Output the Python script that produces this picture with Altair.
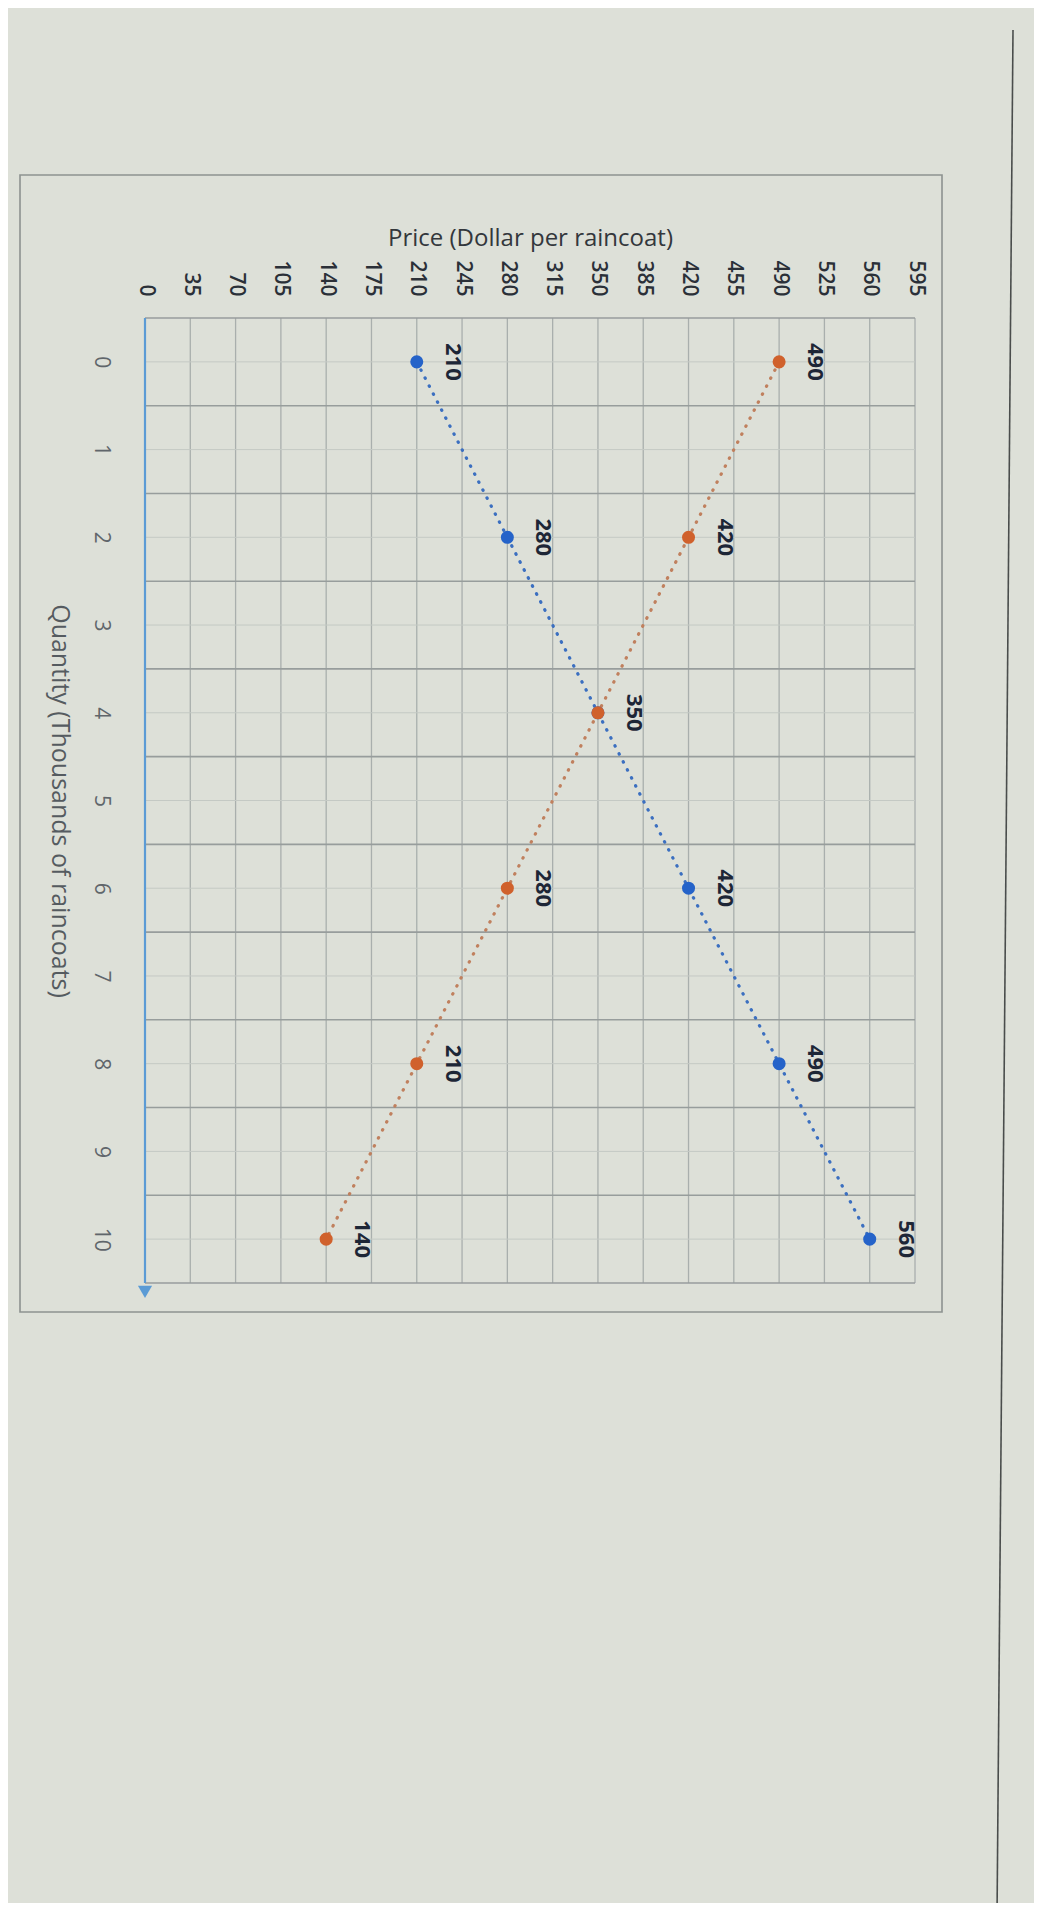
import altair as alt
import pandas as pd

# ---- data ----
quantity = [0, 2, 4, 6, 8, 10]                    # thousands of raincoats
supply_price = [210, 280, 350, 420, 490, 560]     # blue series
demand_price = [490, 420, 350, 280, 210, 140]     # orange series
price_ticks = list(range(0, 596, 35))
quantity_ticks = list(range(0, 11))
category_edges = [q - 0.5 for q in range(0, 12)]

PRICE_TITLE = "Price (Dollar per raincoat)"
QTY_TITLE = "Quantity (Thousands of raincoats)"

# ---- style ----
W, H = 770, 965
BG = "#dde0d8"
FONT = "Open Sans"
BLUE_PT, BLUE_LN = "#2563c9", "#3b6fc0"
ORANGE_PT, ORANGE_LN = "#d0612c", "#c0805e"
GRID = "#a9afad"
GRID_MAJOR = "#979d9c"
GRID_MINOR = "#c4c9c4"

supply = pd.DataFrame({"q": quantity, "p": supply_price})
demand = pd.DataFrame({"q": quantity, "p": demand_price})
labels = pd.concat([supply, demand]).drop_duplicates(subset=["q", "p"])

xs = alt.Scale(domain=[0, 595], nice=False, zero=False)
ys = alt.Scale(domain=[category_edges[0], category_edges[-1]], nice=False, zero=False, reverse=True)

X_AX = alt.Axis(
    orient="top", values=price_ticks, title=PRICE_TITLE,
    domain=False, ticks=False, grid=False,
    labelAngle=90, labelAlign="right", labelBaseline="middle", labelPadding=22,
    labelFont=FONT, labelFontSize=21, labelFontWeight=600, labelColor="#2b3038",
    labelFlush=False, labelOverlap=False,
    titleFont=FONT, titleFontSize=24, titleFontWeight="normal", titleColor="#33373c",
    titleAngle=0, titleX=W / 2, titleY=-80, titleAlign="center", titleBaseline="middle",
)
Y_AX = alt.Axis(
    orient="left", values=quantity_ticks, title=QTY_TITLE,
    domain=False, ticks=False, grid=False,
    labelAngle=90, labelAlign="center", labelBaseline="middle", labelPadding=45,
    labelFont=FONT, labelFontSize=21, labelColor="#60666b", labelFlush=False, labelOverlap=False,
    titleFont=FONT, titleFontSize=25, titleFontWeight="normal", titleColor="#555b60",
    titleAngle=90, titleX=-86, titleY=H / 2, titleAlign="center", titleBaseline="middle",
)


def X(f="p"):
    return alt.X(f"{f}:Q", scale=xs, axis=X_AX)


def Y(f="q"):
    return alt.Y(f"{f}:Q", scale=ys, axis=Y_AX)


price_grid = alt.Chart(pd.DataFrame({"p": price_ticks})).mark_rule(
    color=GRID, strokeWidth=1.3).encode(x=X())
q_minor = alt.Chart(pd.DataFrame({"q": quantity_ticks})).mark_rule(
    color=GRID_MINOR, strokeWidth=1.0).encode(y=Y())
q_major = alt.Chart(pd.DataFrame({"q": category_edges})).mark_rule(
    color=GRID_MAJOR, strokeWidth=1.6).encode(y=Y())

axis_line = alt.Chart(pd.DataFrame({"p": [0]})).mark_rule(
    color="#5b9bd5", strokeWidth=2.2).encode(x=X())
arrow = alt.Chart(pd.DataFrame({"p": [0], "q": [category_edges[-1] + 0.1]})).mark_point(
    shape="triangle-down", filled=True, color="#5b9bd5", size=200, opacity=1).encode(x=X(), y=Y())


def series(df, line_color, point_color):
    base = alt.Chart(df)
    ln = base.mark_line(color=line_color, strokeWidth=3.2, strokeDash=[0.5, 8.5],
                        strokeCap="round").encode(x=X(), y=Y(), order="q:Q")
    pt = base.mark_circle(color=point_color, size=170, opacity=1).encode(x=X(), y=Y())
    return ln, pt


s_ln, s_pt = series(supply, BLUE_LN, BLUE_PT)
d_ln, d_pt = series(demand, ORANGE_LN, ORANGE_PT)

text = alt.Chart(labels).mark_text(
    angle=90, align="center", baseline="middle", dy=-36,
    font=FONT, fontSize=22, fontWeight="bold", color="#1d2636",
).encode(x=X(), y=Y(), text=alt.Text("p:Q"))

one = pd.DataFrame({"a": [0]})
border = alt.Chart(one).mark_rect(fillOpacity=0, stroke="#8d9290", strokeWidth=1.6).encode(
    x=alt.value(-125), x2=alt.value(797), y=alt.value(-143), y2=alt.value(994))
window_edge = alt.Chart(one).mark_rule(color="#4a4d4c", strokeWidth=1.6).encode(
    x=alt.value(868), x2=alt.value(852), y=alt.value(-288), y2=alt.value(1600))

chart = alt.layer(
    price_grid, q_minor, q_major, axis_line, arrow,
    s_ln, d_ln, s_pt, d_pt, text, border, window_edge,
).properties(
    width=W, height=H,
    padding={"left": 137, "top": 310, "right": 119, "bottom": 620},
    autosize=alt.AutoSizeParams(type="none"),
    background=BG,
).configure_view(stroke=None).configure(font=FONT)

chart.save("out.html", embed_options={"renderer": "svg", "actions": False})
